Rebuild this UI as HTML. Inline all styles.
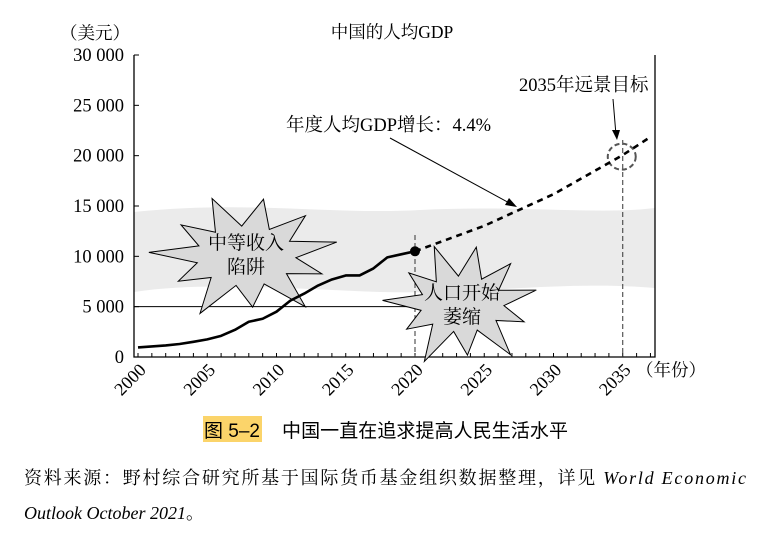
<!DOCTYPE html>
<html><head><meta charset="utf-8"><style>
body{margin:0;width:782px;height:548px;background:#fff;overflow:hidden;font-family:"Liberation Serif","Noto Serif CJK SC",serif;}
svg{position:absolute;left:0;top:0}
</style></head><body>
<svg id="c" width="782" height="548">
<path d="M134,212 C250,200 330,215 420,210 C520,205 600,215 655,208 L655,288 C560,280 480,295 380,292 C280,288 200,282 134,292 Z" fill="#ebebeb"/>
<g id="marks"></g>
<text x="392" y="38" font-size="17.5" text-anchor="middle">中国的人均GDP</text>
<text x="60" y="39" font-size="17.5">（美元）</text>
<text x="636" y="376" font-size="17.5">（年份）</text>
<text x="519" y="91" font-size="18.5">2035年远景目标</text>
<text x="286" y="131" font-size="18.5">年度人均GDP增长：4.4%</text>
<line x1="390" y1="138" x2="513" y2="205" stroke="#000" stroke-width="1"/>
<polygon points="517,207 505,205 509,198" fill="#000"/>
<line x1="613" y1="99" x2="616" y2="135" stroke="#000"/>
<polygon points="617,140 612,130 620,130" fill="#000"/>
<rect x="203" y="416" width="59" height="26" fill="#fbd46a"/>
<text x="204" y="437" font-size="19" font-family="Liberation Sans,Noto Sans CJK SC,sans-serif">图 5–2</text>
<text x="282" y="437" font-size="19" textLength="286" font-family="Liberation Sans,Noto Sans CJK SC,sans-serif">中国一直在追求提高人民生活水平</text>
<text x="24" y="484" font-size="18" textLength="722">资料来源：野村综合研究所基于国际货币基金组织数据整理，详见 <tspan font-style="italic">World Economic</tspan></text>
<text x="24" y="519" font-size="18" font-style="italic">Outlook October 2021<tspan font-style="normal">。</tspan></text>
</svg>
<script>
const histYears=[2000,2001,2002,2003,2004,2005,2006,2007,2008,2009,2010,2011,2012,2013,2014,2015,2016,2017,2018,2019,2020];
const histValues=[950,1050,1150,1290,1510,1750,2100,2700,3500,3800,4500,5600,6300,7100,7700,8100,8100,8800,9900,10200,10500];
const projYears=[2020,2025,2030,2035,2037];
const projValues=[10500,13030,16170,20060,21860];
const yTicks=[0,5000,10000,15000,20000,25000,30000];
const yTickLabels=["0","5 000","10 000","15 000","20 000","25 000","30 000"];
const xTicks=[2000,2005,2010,2015,2020,2025,2030,2035];
const NS="http://www.w3.org/2000/svg";
const L=134,R=655,T=55,B=357;
const xs=y=>138+(y-2000)*13.85;
const ys=v=>B-v/30000*(B-T);
const g=document.getElementById('marks');
function mk(t,a,p){const e=document.createElementNS(NS,t);for(const k in a)e.setAttribute(k,a[k]);(p||g).appendChild(e);return e;}
let e=mk('polyline',{points:`${L},${T} ${L},${B} ${R},${B} ${R},${T}`,fill:'none',stroke:'#000','stroke-width':1.3});


yTicks.forEach((v,i)=>{
 mk('line',{x1:L,x2:L+5,y1:ys(v),y2:ys(v),stroke:'#000'});
 const t=mk('text',{x:L-10,y:ys(v)+6,'font-size':18.5,'text-anchor':'end'});t.textContent=yTickLabels[i];
 
 
});
for(let y=2000;y<=2037;y++) mk('line',{x1:xs(y),x2:xs(y),y1:B,y2:B-4,stroke:'#000'});
xTicks.forEach(y=>{
 const t=mk('text',{x:0,y:0,'font-size':18,transform:`translate(${xs(y)+9},${B+14}) rotate(-45)`,'text-anchor':'end'});t.textContent=y;
 
 
});
mk('line',{x1:L,x2:432,y1:ys(5000),y2:ys(5000),stroke:'#000'});
mk('polygon',{points:`440,${ys(5000)} 429,${ys(5000)-4} 429,${ys(5000)+4}`,fill:'#000'});
function burst(cx,cy,rx,ry,ix,iy,n,name,lines,fy){
 let pts=[];for(let i=0;i<2*n;i++){const a=Math.PI*i/n-Math.PI/2+0.2;const o=i%2==0;const j=o?(1+0.12*Math.sin(i*1.7)):1;pts.push(`${cx+(o?rx*j:ix)*Math.cos(a)},${cy+(o?ry*j:iy)*Math.sin(a)}`);}
 const p=mk('polygon',{points:pts.join(' '),fill:'#d9d9d9',stroke:'#000','stroke-width':1});
 
 
 lines.forEach((s,k)=>{const t=mk('text',{x:cx,y:fy+k*24,'font-size':19,'text-anchor':'middle'});t.textContent=s;});
}
burst(246,256,88,58,50,30,11,'middle-income-trap-burst',['中等收入','陷阱'],249);
mk('line',{x1:xs(2020),x2:xs(2020),y1:235,y2:B,stroke:'#333','stroke-dasharray':'5,3'});
burst(462,304,72,58,42,28,11,'population-decline-burst',['人口开始','萎缩'],299);
mk('line',{x1:xs(2035),x2:xs(2035),y1:140,y2:B,stroke:'#333','stroke-dasharray':'5,3'});
mk('ellipse',{cx:xs(2035)-1,cy:ys(20000)+1,rx:14,ry:13,fill:'none',stroke:'#555','stroke-width':2,'stroke-dasharray':'5,3'});
e=mk('polyline',{points:histYears.map((y,i)=>`${xs(y)},${ys(histValues[i])}`).join(' '),fill:'none',stroke:'#000','stroke-width':2.6,'stroke-linejoin':'round'});


e=mk('polyline',{points:projYears.map((y,i)=>`${xs(y)},${ys(projValues[i])}`).join(' '),fill:'none',stroke:'#000','stroke-width':2.6,'stroke-dasharray':'6,5'});


e=mk('circle',{cx:xs(2020),cy:ys(10500),r:5,fill:'#000'});


</script>
</body></html>
